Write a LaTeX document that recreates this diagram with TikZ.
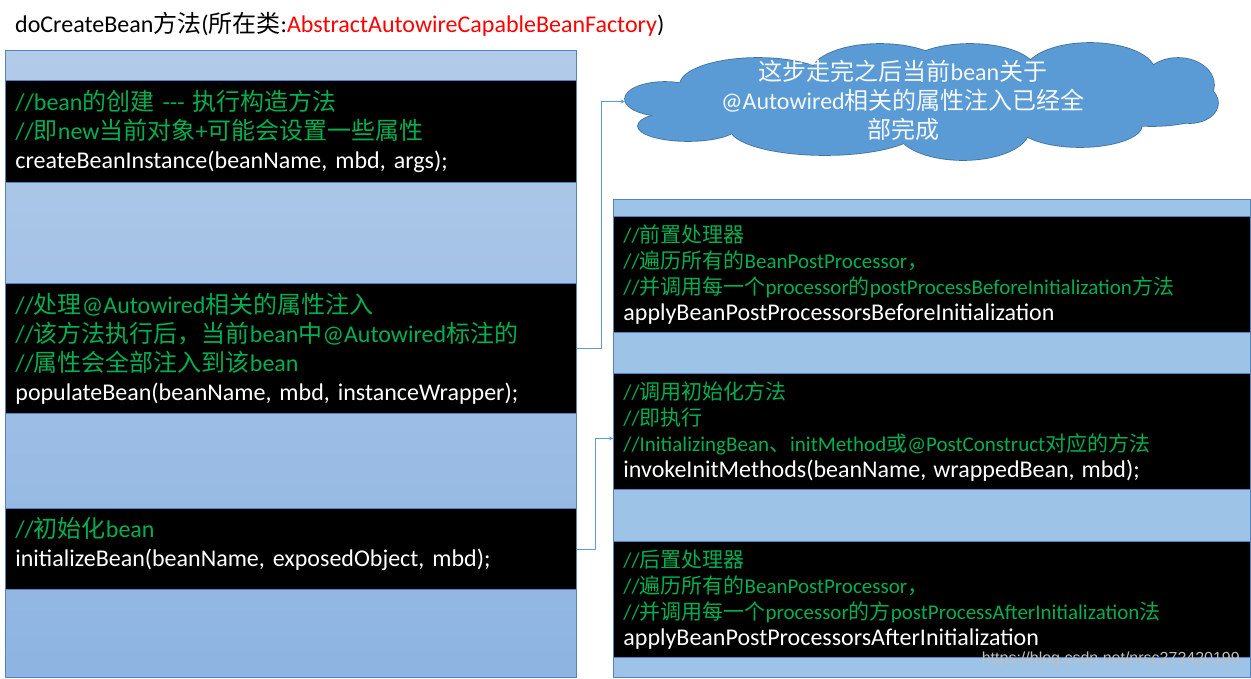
\documentclass[tikz,border=0pt]{standalone}
\usepackage{fontspec}
\setmainfont{Carlito}
\newfontfamily\cjkfont{Noto Sans CJK SC}
\newfontfamily\wmfont{Liberation Sans}
\newcommand\zh[1]{{\cjkfont #1}}
\definecolor{codegreen}{RGB}{0,176,80}
\definecolor{paneltop}{RGB}{178,203,233}
\definecolor{panelbot}{RGB}{141,180,226}
\definecolor{panelright}{RGB}{157,195,230}
\definecolor{paneldraw}{RGB}{84,130,190}
\definecolor{cloudblue}{RGB}{91,155,213}
\definecolor{clouddraw}{RGB}{65,113,156}
\begin{document}
\begin{tikzpicture}[x=1pt, y=-1pt, line join=round, >=stealth,
	panel/.style={draw=paneldraw, line width=0.8pt, anchor=north west, inner sep=0},
	band/.style={fill=black, draw=paneldraw, line width=0.8pt, text=white, align=left, anchor=north west, inner xsep=10pt, inner ysep=0pt},
	lband/.style={band, text width=551pt, font=\fontsize{24}{29}\selectfont},
	rband/.style={band, text width=617pt, minimum height=116pt, font=\fontsize{21}{26}\selectfont},
	conn/.style={draw=cloudblue, line width=0.8pt}]
	\useasboundingbox (0,0) rectangle (1251,678);
	\node[anchor=west, inner sep=0, font=\fontsize{24}{29}\selectfont] (title) at (15,24)
		{doCreateBean\zh{方法}(\zh{所在类}:{\color{red}AbstractAutowireCapableBeanFactory})};
	% left column
	\node[panel, top color=paneltop, bottom color=panelbot, minimum width=571pt, minimum height=627pt] (leftpanel) at (5,50) {};
	\node[lband, minimum height=102pt] (createbox) at (5,80)
		{{\color{codegreen}//bean\zh{的创建} -{}-{}- \zh{执行构造方法}}\\
		 {\color{codegreen}//\zh{即}new\zh{当前对象}+\zh{可能会设置一些属性}}\\
		 createBeanInstance(beanName, mbd, args);};
	\node[lband, minimum height=130pt] (popbox) at (5,283)
		{{\color{codegreen}//\zh{处理}@Autowired\zh{相关的属性注入}}\\
		 {\color{codegreen}//\zh{该方法执行后，当前}bean\zh{中}@Autowired\zh{标注的}}\\
		 {\color{codegreen}//\zh{属性会全部注入到该}bean}\\
		 populateBean(beanName, mbd, instanceWrapper);};
	\node[lband, minimum height=81pt] (initbox) at (5,508)
		{{\color{codegreen}//\zh{初始化}bean}\\
		 initializeBean(beanName, exposedObject, mbd);\\[-14pt]\mbox{}};
	% right column
	\node[panel, fill=panelright, minimum width=637pt, minimum height=478pt] (rightpanel) at (613,199) {};
	\node[rband] (beforebox) at (613,216)
		{{\color{codegreen}//\zh{前置处理器}}\\
		 {\color{codegreen}//\zh{遍历所有的}BeanPostProcessor\zh{，}}\\
		 {\color{codegreen}//\zh{并调用每一个}processor\zh{的}postProcessBeforeInitialization\zh{方法}}\\
		 {\fontsize{24}{26}\selectfont applyBeanPostProcessorsBeforeInitialization}};
	\node[rband] (invokebox) at (613,373)
		{{\color{codegreen}//\zh{调用初始化方法}}\\
		 {\color{codegreen}//\zh{即执行}}\\
		 {\color{codegreen}//InitializingBean\zh{、}initMethod\zh{或}@PostConstruct\zh{对应的方法}}\\
		 {\fontsize{24}{26}\selectfont invokeInitMethods(beanName, wrappedBean, mbd);}};
	\node[rband] (afterbox) at (613,541)
		{{\color{codegreen}//\zh{后置处理器}}\\
		 {\color{codegreen}//\zh{遍历所有的}BeanPostProcessor\zh{，}}\\
		 {\color{codegreen}//\zh{并调用每一个}processor\zh{的方}postProcessAfterInitialization\zh{法}}\\
		 {\fontsize{24}{26}\selectfont applyBeanPostProcessorsAfterInitialization}};
	% note cloud: union of puffs, outline first, fill on top
	\def\puffs{665/99/40/17, 688/126/50/15, 758/85/78/27, 880/72/68/28, 970/70/65/26, 1090/72/65/29,
		1178/85/36/27, 1190/103/28/20, 1152/108/58/18, 1080/125/62/22, 963/130/66/30, 825/128/95/27, 920/100/250/35}
	\foreach \cx/\cy/\rx/\ry in \puffs \draw[clouddraw, line width=1.6pt] (\cx,\cy) ellipse [x radius=\rx, y radius=\ry];
	\foreach \cx/\cy/\rx/\ry in \puffs \fill[cloudblue] (\cx,\cy) ellipse [x radius=\rx, y radius=\ry];
	\node[minimum width=591pt, minimum height=117pt, inner sep=0] (donecloud) at (920.5,101.5) {};
	\node[text=white!94!cloudblue, align=center, inner sep=0, font=\fontsize{24}{29}\selectfont] (donetext) at (903,100)
		{\zh{这步走完之后当前}bean\zh{关于}\\@Autowired\zh{相关的属性注入已经全}\\\zh{部完成}};
	\draw[conn,->] (popbox.east) -- ++(25,0) |- (donecloud.west);
	\draw[conn,->] (initbox.east) -- ++(19,0) |- ([yshift=-7pt]invokebox.west);
	\node[anchor=east, inner sep=0, text=gray!50, font=\wmfont\fontsize{16}{18}\selectfont] (mark) at (1240,659)
		{https://blog.csdn.net/nrsc272420199};
\end{tikzpicture}
\end{document}
